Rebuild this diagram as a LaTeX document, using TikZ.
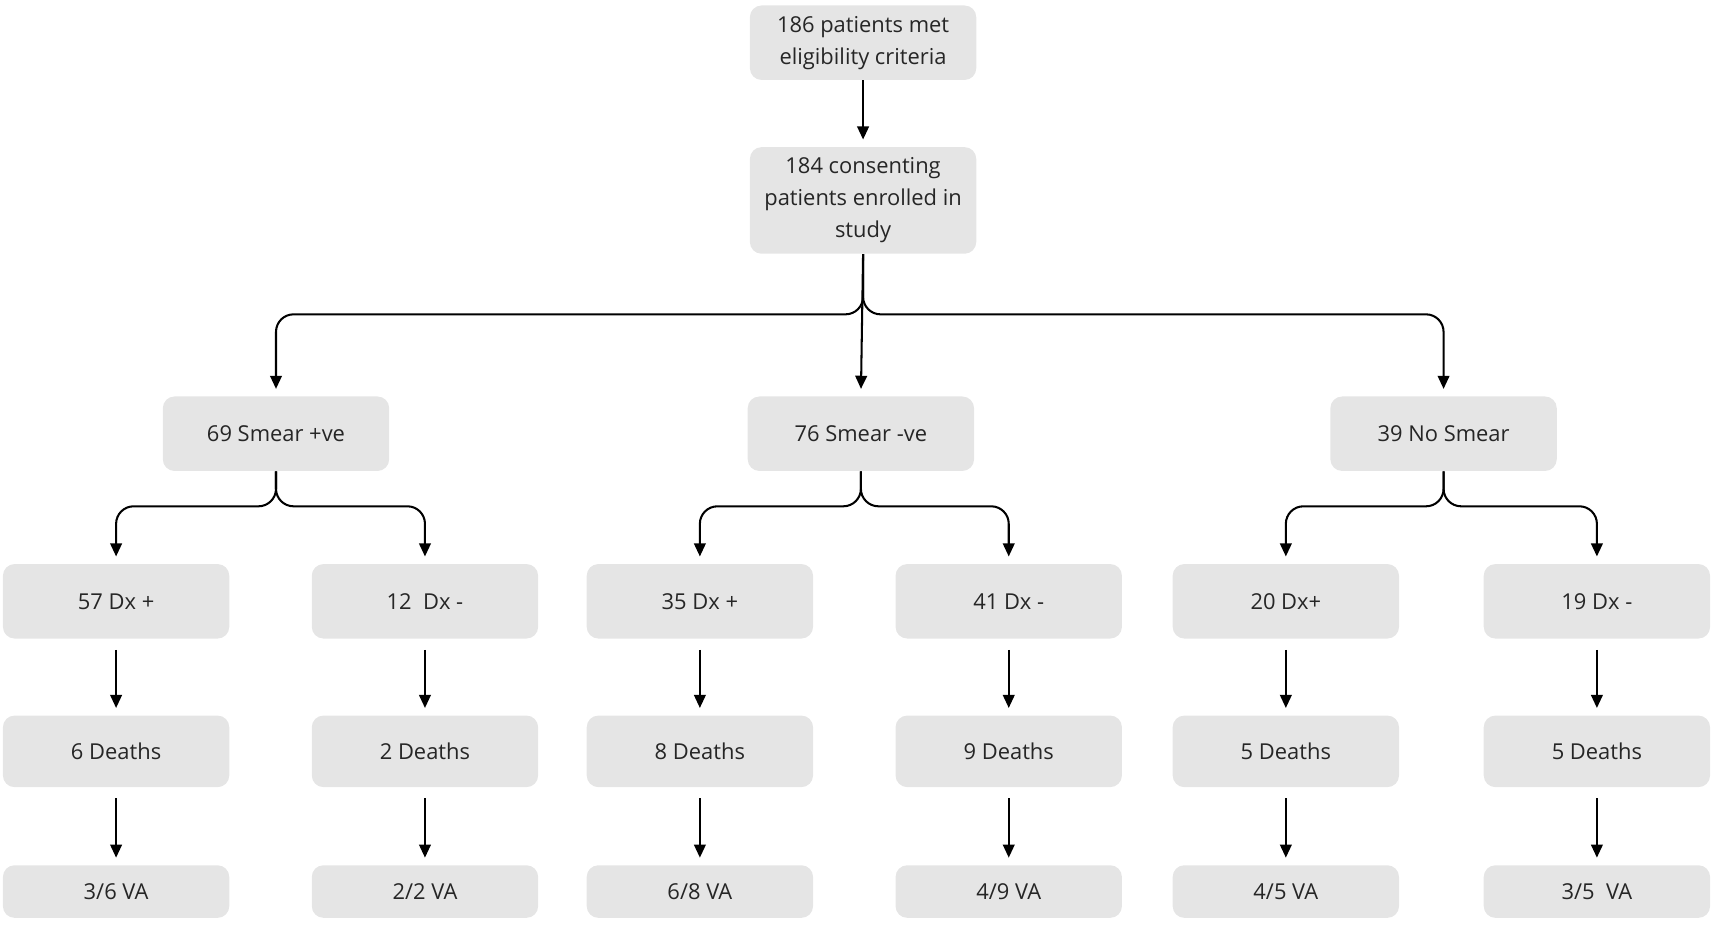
\documentclass[tikz,border=0pt]{standalone}
\usepackage{fontspec}
\setmainfont{Open Sans}
\usetikzlibrary{arrows.meta}
\begin{document}
\begin{tikzpicture}[x=0.75pt,y=-0.75pt,
 box/.style={fill=black!10,rounded corners=8pt,minimum width=155pt,align=center,font=\fontsize{15}{22}\selectfont,text=black!85,inner sep=0pt},
 arr/.style={line width=1.4pt,-{Triangle[length=9pt,width=8pt]},shorten >=5pt},
 br/.style={arr,rounded corners=12pt}]
\useasboundingbox (0,0) rectangle (1564,845);
\node[box,minimum height=51pt] (a) at (788,39) {186 patients met\\eligibility criteria};
\node[box,minimum height=73pt] (b) at (788,183) {184 consenting\\patients enrolled in\\study};
\node[box,minimum height=51pt] (s1) at (252,396) {69 Smear +ve};
\node[box,minimum height=51pt] (s2) at (786,396) {76 Smear -ve};
\node[box,minimum height=51pt] (s3) at (1318,396) {39 No Smear};
\foreach \n/\x/\t/\d/\v in {d1/106/57 Dx +/6 Deaths/{3/6 VA},d2/388/12\ \ Dx -/2 Deaths/{2/2 VA},d3/639/35 Dx +/8 Deaths/{6/8 VA},d4/921/41 Dx -/9 Deaths/{4/9 VA},d5/1174/20 Dx+/5 Deaths/{4/5 VA},d6/1458/19 Dx -/5 Deaths/{3/5\ \ VA}}{
 \node[box,minimum height=51pt] (\n) at (\x,549) {\t};
 \node[box,minimum height=49pt] (\n e) at (\x,686) {\d};
 \node[box,minimum height=36pt] (\n v) at (\x,814) {\v};
 \draw[arr] (\n.south) ++(0,10) coordinate (\n s) -- (\n e.north);
 \draw[arr] (\n e.south) ++(0,10) coordinate (\n t) -- (\n v.north);
}
\draw[arr] (a.south) -- (b.north);
\coordinate (j) at (788,287);
\draw[br] (b.south) -- (j) -| (s1.north);
\draw[br] (b.south) -- (j) -| (s3.north);
\draw[arr] (b.south) -- (s2.north);
\foreach \s/\l/\r in {s1/d1/d2,s2/d3/d4,s3/d5/d6}{
 \coordinate (k) at ([yshift=-24pt]\s.south);
 \draw[br] (\s.south) -- (k) -| (\l.north);
 \draw[br] (\s.south) -- (k) -| (\r.north);
}
\end{tikzpicture}
\end{document}
